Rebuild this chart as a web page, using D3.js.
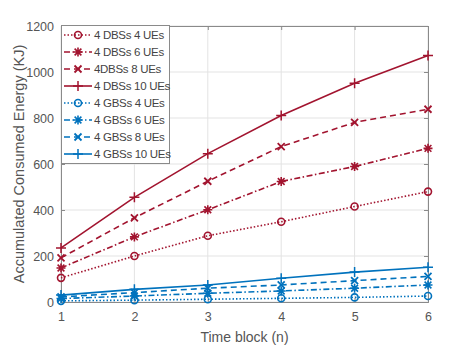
<!DOCTYPE html>
<html>
<head>
<meta charset="utf-8">
<script src="https://cdn.jsdelivr.net/npm/d3@7"></script>
<style>
  html, body { margin: 0; padding: 0; background: #fff; }
  svg text { font-family: "Liberation Sans", Arial, sans-serif; }
</style>
</head>
<body>
<div id="chart"></div>
<script>
const blocks = [1, 2, 3, 4, 5, 6];
const yTicks = [0, 200, 400, 600, 800, 1000, 1200];

const dbs4 = [105, 200, 288, 349, 415, 480];
const dbs6 = [148, 283, 401, 524, 589, 668];
const dbs8 = [192, 366, 525, 676, 781, 838];
const dbs10 = [235, 455, 645, 811, 951, 1072];
const gbs4 = [5, 8, 12, 16, 20, 26];
const gbs6 = [15, 26, 38, 48, 60, 74];
const gbs8 = [22, 41, 60, 74, 93, 111];
const gbs10 = [30, 55, 74, 103, 130, 151];

const seriesNames = ["4 DBSs 4 UEs", "4 DBSs 6 UEs", "4DBSs 8 UEs", "4 DBSs 10 UEs",
                     "4 GBSs 4 UEs", "4 GBSs 6 UEs", "4 GBSs 8 UEs", "4 GBSs 10 UEs"];

const red = "#A2142F", blue = "#0072BD";
const dash = {":": "1.5,2", "-.": "6,2.5,1.5,2.5", "--": "6,4", "-": null};

const series = [
  {name: seriesNames[0], values: dbs4, color: red, style: ":", marker: "o"},
  {name: seriesNames[1], values: dbs6, color: red, style: "-.", marker: "*"},
  {name: seriesNames[2], values: dbs8, color: red, style: "--", marker: "x"},
  {name: seriesNames[3], values: dbs10, color: red, style: "-", marker: "+"},
  {name: seriesNames[4], values: gbs4, color: blue, style: ":", marker: "o"},
  {name: seriesNames[5], values: gbs6, color: blue, style: "-.", marker: "*"},
  {name: seriesNames[6], values: gbs8, color: blue, style: "--", marker: "x"},
  {name: seriesNames[7], values: gbs10, color: blue, style: "-", marker: "+"}
];

const width = 474, height = 347;
const margin = {top: 26, left: 61, right: 46, bottom: 45};

const x = d3.scaleLinear().domain([1, 6]).range([margin.left, width - margin.right]);
const y = d3.scaleLinear().domain([0, 1200]).range([height - margin.bottom, margin.top]);

const svg = d3.select("#chart").append("svg")
  .attr("width", width)
  .attr("height", height);

// grid
const grid = svg.append("g");
grid.selectAll("line.v")
  .data(blocks)
  .enter().append("line")
  .attr("x1", d => x(d)).attr("x2", d => x(d))
  .attr("y1", y(0)).attr("y2", y(1200))
  .attr("stroke", "#e3e3e3").attr("stroke-width", 1);
grid.selectAll("line.h")
  .data(yTicks)
  .enter().append("line")
  .attr("x1", x(1)).attr("x2", x(6))
  .attr("y1", d => y(d)).attr("y2", d => y(d))
  .attr("stroke", "#e3e3e3").attr("stroke-width", 1);

// axes, ticks pointing inward
const axisColor = "#8a8a8a", textColor = "#555";
const xAxis = svg.append("g")
  .attr("transform", `translate(0,${y(0)})`)
  .call(d3.axisBottom(x).tickValues(blocks).tickSize(-4).tickPadding(10).tickFormat(d3.format("d")));
const xTop = svg.append("g")
  .attr("transform", `translate(0,${y(1200)})`)
  .call(d3.axisTop(x).tickValues(blocks).tickSize(-4).tickFormat(""));
const yAxis = svg.append("g")
  .attr("transform", `translate(${x(1)},0)`)
  .call(d3.axisLeft(y).tickValues(yTicks).tickSize(-4).tickPadding(7).tickFormat(d3.format("d")));
const yRight = svg.append("g")
  .attr("transform", `translate(${x(6)},0)`)
  .call(d3.axisRight(y).tickValues(yTicks).tickSize(-4).tickFormat(""));

[xAxis, xTop, yAxis, yRight].forEach(a => {
  a.selectAll("path").attr("stroke", axisColor);
  a.selectAll("line").attr("stroke", axisColor);
  a.selectAll("text")
    .attr("fill", textColor)
    .attr("font-size", 12.5)
    .attr("font-family", "Liberation Sans, Arial, sans-serif");
});

svg.append("text")
  .attr("x", (x(1) + x(6)) / 2)
  .attr("y", 342)
  .attr("text-anchor", "middle")
  .attr("fill", textColor)
  .attr("font-size", 14)
  .text("Time block (n)");

svg.append("text")
  .attr("transform", `translate(20,${(y(0) + y(1200)) / 2}) rotate(-90)`)
  .attr("text-anchor", "middle")
  .attr("dominant-baseline", "middle")
  .attr("fill", textColor)
  .attr("font-size", 14.5)
  .text("Accumulated Consumed Energy (KJ)");

function drawMarker(g, type, cx, cy, color) {
  const s = 3.5;
  if (type === "o") {
    g.append("circle").attr("cx", cx).attr("cy", cy).attr("r", s)
      .attr("fill", "none").attr("stroke", color).attr("stroke-width", 1.6);
  } else if (type === "+") {
    g.append("path").attr("d", `M${cx - 5},${cy}H${cx + 5}M${cx},${cy - 5}V${cy + 5}`)
      .attr("stroke", color).attr("stroke-width", 1.5);
  } else if (type === "x") {
    g.append("path").attr("d", `M${cx - s},${cy - s}L${cx + s},${cy + s}M${cx - s},${cy + s}L${cx + s},${cy - s}`)
      .attr("stroke", color).attr("stroke-width", 1.8);
  } else if (type === "*") {
    const r = 4.5;
    let d = `M${cx - r},${cy}H${cx + r}M${cx},${cy - r}V${cy + r}`;
    const k = r * 0.75;
    d += `M${cx - k},${cy - k}L${cx + k},${cy + k}M${cx - k},${cy + k}L${cx + k},${cy - k}`;
    g.append("path").attr("d", d).attr("stroke", color).attr("stroke-width", 1.6);
  }
}

const line = d3.line().x((d, i) => x(blocks[i])).y(d => y(d));

const plot = svg.append("g");
series.forEach(s => {
  const g = plot.append("g");
  g.append("path")
    .datum(s.values)
    .attr("d", line)
    .attr("fill", "none")
    .attr("stroke", s.color)
    .attr("stroke-width", 1.6)
    .attr("stroke-dasharray", dash[s.style]);
  s.values.forEach((v, i) => drawMarker(g, s.marker, x(blocks[i]), y(v), s.color));
});

// legend
const legend = svg.append("g");
const lx = 61, ly = 25, rowH = 17;
legend.append("rect")
  .attr("x", lx + 0.5).attr("y", ly + 0.5)
  .attr("width", 108).attr("height", 138)
  .attr("fill", "#fff").attr("stroke", axisColor).attr("stroke-width", 1);
series.forEach((s, i) => {
  const cy = ly + 10 + i * rowH;
  const g = legend.append("g");
  g.append("line")
    .attr("x1", lx + 3).attr("x2", lx + 31)
    .attr("y1", cy).attr("y2", cy)
    .attr("stroke", s.color).attr("stroke-width", 1.6)
    .attr("stroke-dasharray", dash[s.style]);
  drawMarker(g, s.marker, lx + 17, cy, s.color);
  g.append("text")
    .attr("x", lx + 33).attr("y", cy)
    .attr("dominant-baseline", "central")
    .attr("fill", "#444")
    .attr("font-size", 11.5)
    .attr("letter-spacing", -0.3)
    .text(s.name);
});
</script>
</body>
</html>
